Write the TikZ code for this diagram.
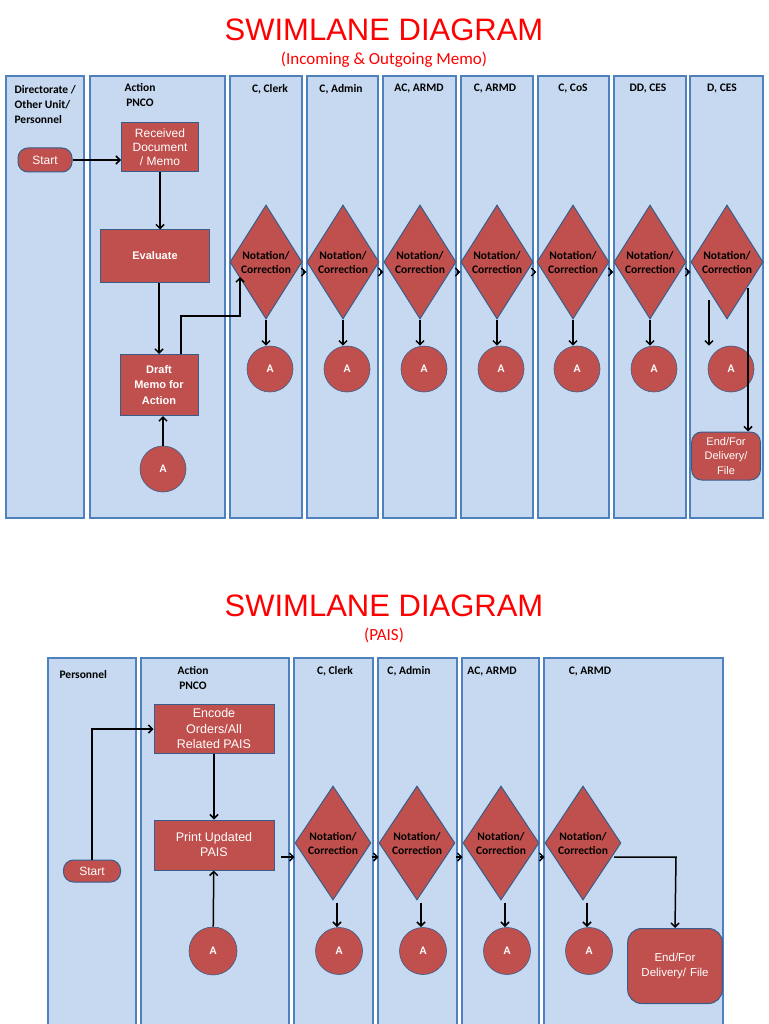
\documentclass[tikz,border=0pt]{standalone}
\usepackage{fontspec}
\setmainfont{Carlito}
\newfontfamily\arialf{Liberation Sans}
\usetikzlibrary{arrows.meta,shapes.geometric}
\definecolor{lanef}{HTML}{C6D9F1}
\definecolor{laned}{HTML}{4F81BD}
\definecolor{redf}{HTML}{C0504D}
\definecolor{redd}{HTML}{385D8A}
\begin{document}
\begin{tikzpicture}[x=1pt,y=-1pt,
 lane/.style={draw=laned,fill=lanef,line width=1.2pt},
 lanelbl/.style={font=\bfseries\fontsize{11.5}{15}\selectfont,align=left,anchor=north west},
 proc/.style={draw=redd,fill=redf,line width=1pt,text=white,align=center,font=\arialf\fontsize{12}{14}\selectfont,minimum width=#1,inner sep=1pt},
 term/.style={draw=redd,fill=redf,line width=1pt,text=white,rounded corners=10pt,align=center,font=\arialf\fontsize{12}{14}\selectfont},
 conn/.style={circle,draw=redd,fill=redf,line width=0.6pt,text=white,minimum size=46pt,font=\bfseries\fontsize{11.5}{12}\selectfont},
 dec/.style={diamond,draw=redd,fill=redf,line width=1pt,minimum width=#1,inner sep=0pt,font=\bfseries\fontsize{11.5}{14}\selectfont,align=center},
 arr/.style={-{Straight Barb[length=4pt,width=8pt]},line width=1.5pt}]
\useasboundingbox (0,0) rectangle (768,1024);
\fill[white] (0,0) rectangle (768,1024);
% titles
\node[text=red,font=\fontsize{31}{34}\selectfont\arialf] (t1) at (384,30) {SWIMLANE DIAGRAM};
\node[text=red,font=\fontsize{17}{18}\selectfont] (s1) at (384,60) {(Incoming \& Outgoing Memo)};
\node[text=red,font=\fontsize{31}{34}\selectfont\arialf] (t2) at (384,606) {SWIMLANE DIAGRAM};
\node[text=red,font=\fontsize{17}{18}\selectfont] (s2) at (384,635) {(PAIS)};
% top lanes
\foreach \a/\b in {6/84,90/225,230/302,307/378,383/456,461/533,538/609,614/686,690/763}
  \draw[lane] (\a,76) rectangle (\b,518);
\node[lanelbl] (h1) at (11,82) {Directorate /\\Other Unit/\\Personnel};
\node[lanelbl,align=center,anchor=north] (h2) at (140,80) {Action\\PNCO};
\foreach \x/\t [count=\i] in {270/{C, Clerk},341/{C, Admin},419/{AC, ARMD},495/{C, ARMD},573/{C, CoS},648/{DD, CES},722/{D, CES}}
  \node[font=\bfseries\fontsize{11.5}{12}\selectfont] (hh\i) at (\x,89) {\t};
\node[term,minimum width=54pt,minimum height=24pt] (start) at (45,160) {Start};
\node[proc=77pt,minimum height=49pt] (recv) at (160,147) {Received\\Document\\/ Memo};
\node[proc=109pt,minimum height=52pt,font=\arialf\bfseries\fontsize{11}{12}\selectfont] (eval) at (155,256) {Evaluate};
\node[proc=78pt,minimum height=61pt,font=\arialf\bfseries\fontsize{11}{15.5}\selectfont] (draft) at (159,385) {Draft\\Memo for\\Action};
\node[conn] (a0) at (163,469) {A};
\draw[arr] (start.east) -- (recv.west|-start.east);
\draw[arr] (recv.south) -- (eval.north-|recv.south);
\draw[arr] (eval.south-|draft.north) -- (draft.north);
\draw[arr] (a0) -- (draft.south-|a0);
\foreach \x [count=\i] in {266,343,420,497,573,650,727}{
  \node[dec=72pt,minimum height=114pt] (d\i) at (\x,262) {Notation/\\Correction};
  \node[conn] (a\i) at (\x+4,369) {A};
}
\foreach \i in {1,...,6} \draw[arr] (d\i.south) -- (a\i.north-|d\i.south);
\coordinate (c7) at (709,300);
\draw[arr] (c7) -- (c7|-a7.north);
\foreach \i/\j in {1/2,2/3,3/4,4/5,5/6,6/7}
  \draw[arr] ([yshift=-10pt]d\i.east) -- ([yshift=-10pt]d\j.west);
\coordinate (k1) at (181,316);
\coordinate (k2) at (240,316);
\draw[arr] (draft.north-|k1) -- (k1) -- (k2) -- (240,277);
\node[term,minimum width=68pt,minimum height=48pt,text width=62pt,font=\arialf\fontsize{11}{14.5}\selectfont] (end1) at (726,456) {End/For\\Delivery/\\File};
\coordinate (c8) at (748,288);
\draw[arr] (c8) -- (c8|-end1.north);
% bottom lanes
\foreach \a/\b in {48/136,141/289,294/373,378/457,462/539,544/723}
  \draw[lane] (\a,1030) -- (\a,658) -- (\b,658) -- (\b,1030);
\node[lanelbl] (p1) at (56,667) {Personnel};
\node[lanelbl,align=center,anchor=north] (p2) at (193,663) {Action\\PNCO};
\foreach \x/\t [count=\i] in {335/{C, Clerk},409/{C, Admin},492/{AC, ARMD},590/{C, ARMD}}
  \node[font=\bfseries\fontsize{11.5}{12}\selectfont] (pp\i) at (\x,671) {\t};
\node[term,minimum width=57pt,minimum height=22pt] (start2) at (92,871) {Start};
\node[proc=120pt,minimum height=49pt,font=\arialf\fontsize{12.5}{15.5}\selectfont] (enc) at (214,729) {Encode\\Orders/All\\Related PAIS};
\node[proc=120pt,minimum height=50pt,font=\arialf\fontsize{12.5}{15}\selectfont] (print) at (214,845) {Print  Updated\\PAIS};
\node[conn,minimum size=48pt] (b0) at (213,951) {A};
\draw[arr] (start2.north) -- (92,729) -- (enc.west);
\draw[arr] (enc) -- (print);
\draw[arr] (b0) -- (print);
\foreach \x [count=\i] in {333,417,501,583}{
  \node[dec=76pt,minimum height=114pt] (e\i) at (\x,843) {Notation/\\Correction};
  \node[conn,minimum size=47pt] (b\i) at (\x+6,951) {A};
  \draw[arr] (\x+4,903) -- (\x+4,927);
}
\draw[arr] (281,857) -- ([yshift=-14pt]e1.west);
\foreach \i/\j in {1/2,2/3,3/4}
  \draw[arr] ([yshift=-14pt]e\i.east) -- ([yshift=-14pt]e\j.west);
\node[term,rounded corners=14pt,minimum width=94pt,minimum height=75pt,text width=88pt,font=\arialf\fontsize{11.5}{15}\selectfont] (end2) at (675,966) {End/For\\Delivery/ File};
\coordinate (c9) at (614,857);
\draw[arr] (c9) -- (676,857) -- (end2.north);
\end{tikzpicture}
\end{document}
